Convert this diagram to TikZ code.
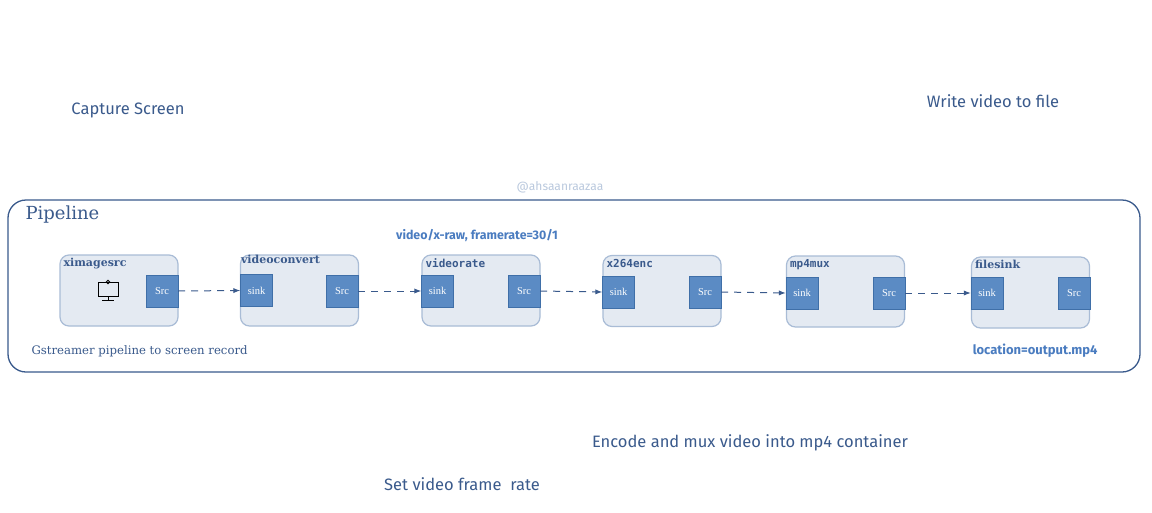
\documentclass[tikz,border=0pt]{standalone}
\usepackage{fontspec}
\setmainfont{DejaVu Serif}
\newfontfamily\capf{Fira Sans}
\newfontfamily\padf{Liberation Serif}
\newfontfamily\monof{DejaVu Sans Mono}
\usetikzlibrary{arrows.meta}
\definecolor{ink}{HTML}{3A5A8C}
\definecolor{elfill}{HTML}{E4EAF2}
\definecolor{elline}{HTML}{A9BCD6}
\definecolor{padfill}{HTML}{5B8BC4}
\definecolor{padline}{HTML}{3F6FA8}
\definecolor{lbl}{HTML}{4A7CC0}
\tikzset{
 elem/.style={draw=elline,line width=1.2pt,fill=elfill,rounded corners=9pt,minimum width=118pt,minimum height=71pt,inner sep=0},
 pad/.style={draw=padline,fill=padfill,minimum width=32pt,minimum height=32pt,inner sep=0,text=white,font=\padf\fontsize{10.5}{12}\selectfont},
 ename/.style={anchor=north west,text=ink,inner sep=4pt,font=\bfseries\fontsize{11}{13}\selectfont},
 link/.style={draw=ink,dashed,dash pattern=on 7pt off 6pt,line width=1pt,-{Latex[length=7pt]}},
 captxt/.style={text=ink,font=\capf\fontsize{16.5}{19}\selectfont}
}
\begin{document}
\begin{tikzpicture}[x=1pt,y=-1pt]
\useasboundingbox[fill=white] (0,0) rectangle (1152,512);
\draw[ink,line width=1.3pt,rounded corners=18pt] (8,200) rectangle (1140,372);
\node[anchor=west,text=ink,font=\fontsize{18}{21}\selectfont] (pl) at (22,215) {Pipeline};
\node[text=elline!80,font=\capf\fontsize{12}{14}\selectfont] (at) at (560,187) {@ahsaanraazaa};
\node[text=lbl,font=\capf\bfseries\fontsize{12.4}{14}\selectfont] (vr) at (477,236) {video/x-raw, framerate=30/1};
% elements
\node[elem] (e1) at (119,290.5) {};
\node[elem] (e2) at (299.5,290.5) {};
\node[elem] (e3) at (481,290.5) {};
\node[elem] (e4) at (662,291) {};
\node[elem] (e5) at (845.5,291.5) {};
\node[elem] (e6) at (1030.5,292.5) {};
\node[ename] at (e1.north west) {ximagesrc};
\node[ename,inner sep=1pt] at (e2.north west) {videoconvert};
\node[ename,font=\monof\bfseries\fontsize{11}{13}\selectfont] at (e3.north west) {videorate};
\node[ename,font=\monof\bfseries\fontsize{11}{13}\selectfont] at (e4.north west) {x264enc};
\node[ename,font=\monof\bfseries\fontsize{11}{13}\selectfont] at (e5.north west) {mp4mux};
\node[ename] at (e6.north west) {filesink};
% monitor icon
\begin{scope}[shift={(108,290)},line width=0.9pt]
\draw (-10,-8) rectangle (10,6);
\draw (0,6) -- (0,10); \draw (-6,10.5) -- (6,10.5);
\draw (0,-8) circle (1.8);
\end{scope}
% pads
\node[pad] (s1) at (162,291) {Src};
\node[pad] (k2) at (256.5,290.5) {sink};
\node[pad] (s2) at (342,291) {Src};
\node[pad] (k3) at (437.5,291) {sink};
\node[pad] (s3) at (524,291) {Src};
\node[pad] (k4) at (618.5,292) {sink};
\node[pad] (s4) at (705,292) {Src};
\node[pad] (k5) at (802,293) {sink};
\node[pad] (s5) at (889,293) {Src};
\node[pad] (k6) at (987,293) {sink};
\node[pad] (s6) at (1074,293) {Src};
\draw[link] (s1.east) -- (k2.west);
\draw[link] (s2.east) -- (k3.west);
\draw[link] (s3.east) -- (k4.west);
\draw[link] (s4.east) -- (k5.west);
\draw[link] (s5.east) -- (k6.west);
\node[anchor=west,text=ink,font=\fontsize{11.7}{14}\selectfont] (g) at (28,351) {Gstreamer pipeline to screen record};
\node[anchor=east,text=lbl,font=\capf\bfseries\fontsize{13}{15}\selectfont] (loc) at (1101,351) {location=output.mp4};
\node[captxt] (c1) at (128,110) {Capture Screen};
\node[captxt] (c2) at (993,101) {Write video to file};
\node[captxt] (c3) at (750,443) {Encode and mux video into mp4 container};
\node[captxt] (c4) at (462,484) {Set video frame\ \ rate};
\end{tikzpicture}
\end{document}
